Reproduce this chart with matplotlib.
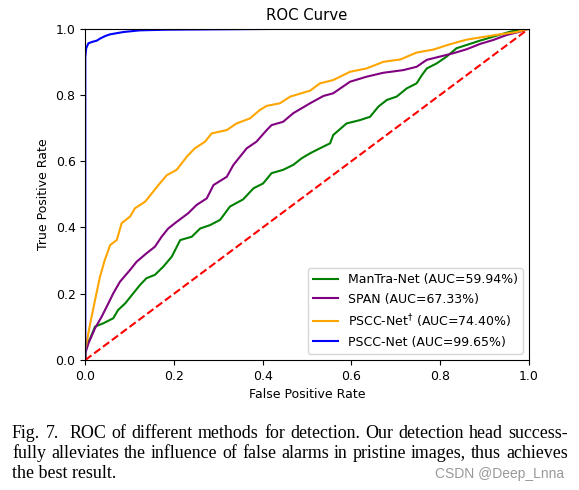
import numpy as np
import matplotlib
matplotlib.use('Agg')
import matplotlib.pyplot as plt

# ROC points (fpr, tpr)
mantra_fpr = [0.0, 0.0, 0.011, 0.022, 0.041, 0.063, 0.074, 0.090, 0.108, 0.123, 0.138, 0.157,
              0.176, 0.195, 0.214, 0.240, 0.259, 0.281, 0.304, 0.326, 0.356, 0.379, 0.401,
              0.420, 0.446, 0.469, 0.488, 0.507, 0.529, 0.552, 0.559, 0.589, 0.619, 0.642,
              0.661, 0.680, 0.702, 0.725, 0.747, 0.759, 0.770, 0.792, 0.815, 0.837, 0.860,
              0.890, 0.920, 0.958, 0.988, 1.0]
mantra_tpr = [0.0, 0.04, 0.065, 0.101, 0.111, 0.126, 0.151, 0.171, 0.201, 0.226, 0.247, 0.257,
              0.282, 0.312, 0.362, 0.372, 0.397, 0.407, 0.423, 0.463, 0.485, 0.518, 0.533,
              0.564, 0.574, 0.589, 0.609, 0.624, 0.639, 0.654, 0.679, 0.714, 0.724, 0.734,
              0.765, 0.785, 0.795, 0.820, 0.835, 0.860, 0.880, 0.895, 0.916, 0.941, 0.951,
              0.964, 0.976, 0.991, 1.0, 1.0]

span_fpr = [0.0, 0.0, 0.007, 0.022, 0.037, 0.052, 0.063, 0.078, 0.101, 0.116, 0.138, 0.157,
            0.172, 0.187, 0.206, 0.232, 0.251, 0.274, 0.289, 0.319, 0.334, 0.364, 0.386,
            0.409, 0.420, 0.446, 0.469, 0.507, 0.537, 0.559, 0.597, 0.634, 0.672, 0.717,
            0.747, 0.770, 0.800, 0.830, 0.860, 0.890, 0.920, 0.950, 0.980, 1.0]
span_tpr = [0.0, 0.02, 0.05, 0.096, 0.131, 0.171, 0.201, 0.236, 0.272, 0.297, 0.322, 0.342,
            0.372, 0.397, 0.417, 0.443, 0.468, 0.488, 0.528, 0.553, 0.589, 0.639, 0.659,
            0.694, 0.709, 0.719, 0.745, 0.775, 0.797, 0.805, 0.840, 0.855, 0.867, 0.875,
            0.885, 0.906, 0.916, 0.926, 0.938, 0.954, 0.966, 0.981, 0.991, 1.0]

pscc_base_fpr = [0.0, 0.0, 0.011, 0.022, 0.033, 0.044, 0.056, 0.071, 0.082, 0.101, 0.112, 0.135,
                 0.150, 0.168, 0.184, 0.206, 0.229, 0.247, 0.270, 0.285, 0.319, 0.341, 0.371,
                 0.394, 0.409, 0.439, 0.462, 0.507, 0.529, 0.559, 0.597, 0.634, 0.672, 0.710,
                 0.747, 0.785, 0.822, 0.860, 0.897, 0.935, 0.973, 1.0]
pscc_base_tpr = [0.0, 0.03, 0.11, 0.181, 0.251, 0.302, 0.347, 0.362, 0.413, 0.433, 0.458, 0.478,
                 0.503, 0.533, 0.558, 0.574, 0.614, 0.639, 0.659, 0.684, 0.694, 0.714, 0.729,
                 0.755, 0.767, 0.775, 0.795, 0.813, 0.835, 0.845, 0.870, 0.880, 0.900, 0.907,
                 0.928, 0.937, 0.953, 0.967, 0.975, 0.983, 0.990, 1.0]

pscc_fpr = [0.0, 0.0, 0.002, 0.007, 0.015, 0.026, 0.033, 0.045, 0.056, 0.086, 0.123, 0.184,
            0.505, 1.0]
pscc_tpr = [0.0, 0.915, 0.941, 0.956, 0.960, 0.964, 0.970, 0.978, 0.983, 0.990, 0.995, 0.997,
            1.0, 1.0]

labels = ['ManTra-Net (AUC=59.94%)', 'SPAN (AUC=67.33%)',
          r'PSCC-Net$^{\dagger}$ (AUC=74.40%)', 'PSCC-Net (AUC=99.65%)']
colors = ['green', 'purple', 'orange', 'blue']

caption = [
    'Fig. 7.  ROC of different methods for detection. Our detection head success-',
    'fully alleviates the influence of false alarms in pristine images, thus achieves',
    'the best result.',
]

W, H = 579, 490
fig = plt.figure(figsize=(W / 100, H / 100), dpi=100)
ax = fig.add_axes([85.3 / W, 1 - 360 / H, 443.5 / W, 331.3 / H])

curves = [(mantra_fpr, mantra_tpr), (span_fpr, span_tpr),
          (pscc_base_fpr, pscc_base_tpr), (pscc_fpr, pscc_tpr)]
for (fpr, tpr), lab, c in zip(curves, labels, colors):
    ax.plot(fpr, tpr, color=c, lw=1.5, label=lab)
ax.plot([0, 1], [0, 1], 'r--', lw=1.5)

ax.set_xlim(0, 1)
ax.set_ylim(0, 1)
ax.set_title('ROC Curve', fontsize=10.7)
ax.set_xlabel('False Positive Rate', fontsize=9)
ax.set_ylabel('True Positive Rate', fontsize=9)
ax.tick_params(labelsize=9)
ax.legend(loc='lower right', fontsize=9)


def justify_line(words, y, x0, x1, **kw):
    # spread the words so the line fills x0..x1 (pixels), like the typeset caption
    renderer = fig.canvas.get_renderer()
    texts = [fig.text(0, y, w, va='baseline', **kw) for w in words]
    widths = [t.get_window_extent(renderer).width for t in texts]
    gap = (x1 - x0 - sum(widths)) / (len(words) - 1)
    x = x0
    for t, w in zip(texts, widths):
        t.set_x(x / W)
        x += w + gap


cap_kw = dict(family='Liberation Serif', fontsize=12.9, color='black')
baselines = [438, 458, 478]
justify_line(caption[0].split(' '), 1 - baselines[0] / H, 12, 568, **cap_kw)
justify_line(caption[1].split(' '), 1 - baselines[1] / H, 12, 568, **cap_kw)
fig.text(12 / W, 1 - baselines[2] / H, caption[2], va='baseline', **cap_kw)
fig.text(564 / W, 1 - baselines[2] / H, 'CSDN @Deep_Lnna', va='baseline', ha='right',
         family='Liberation Sans', fontsize=10, color='#999999')

fig.savefig('out.png', dpi=100)
